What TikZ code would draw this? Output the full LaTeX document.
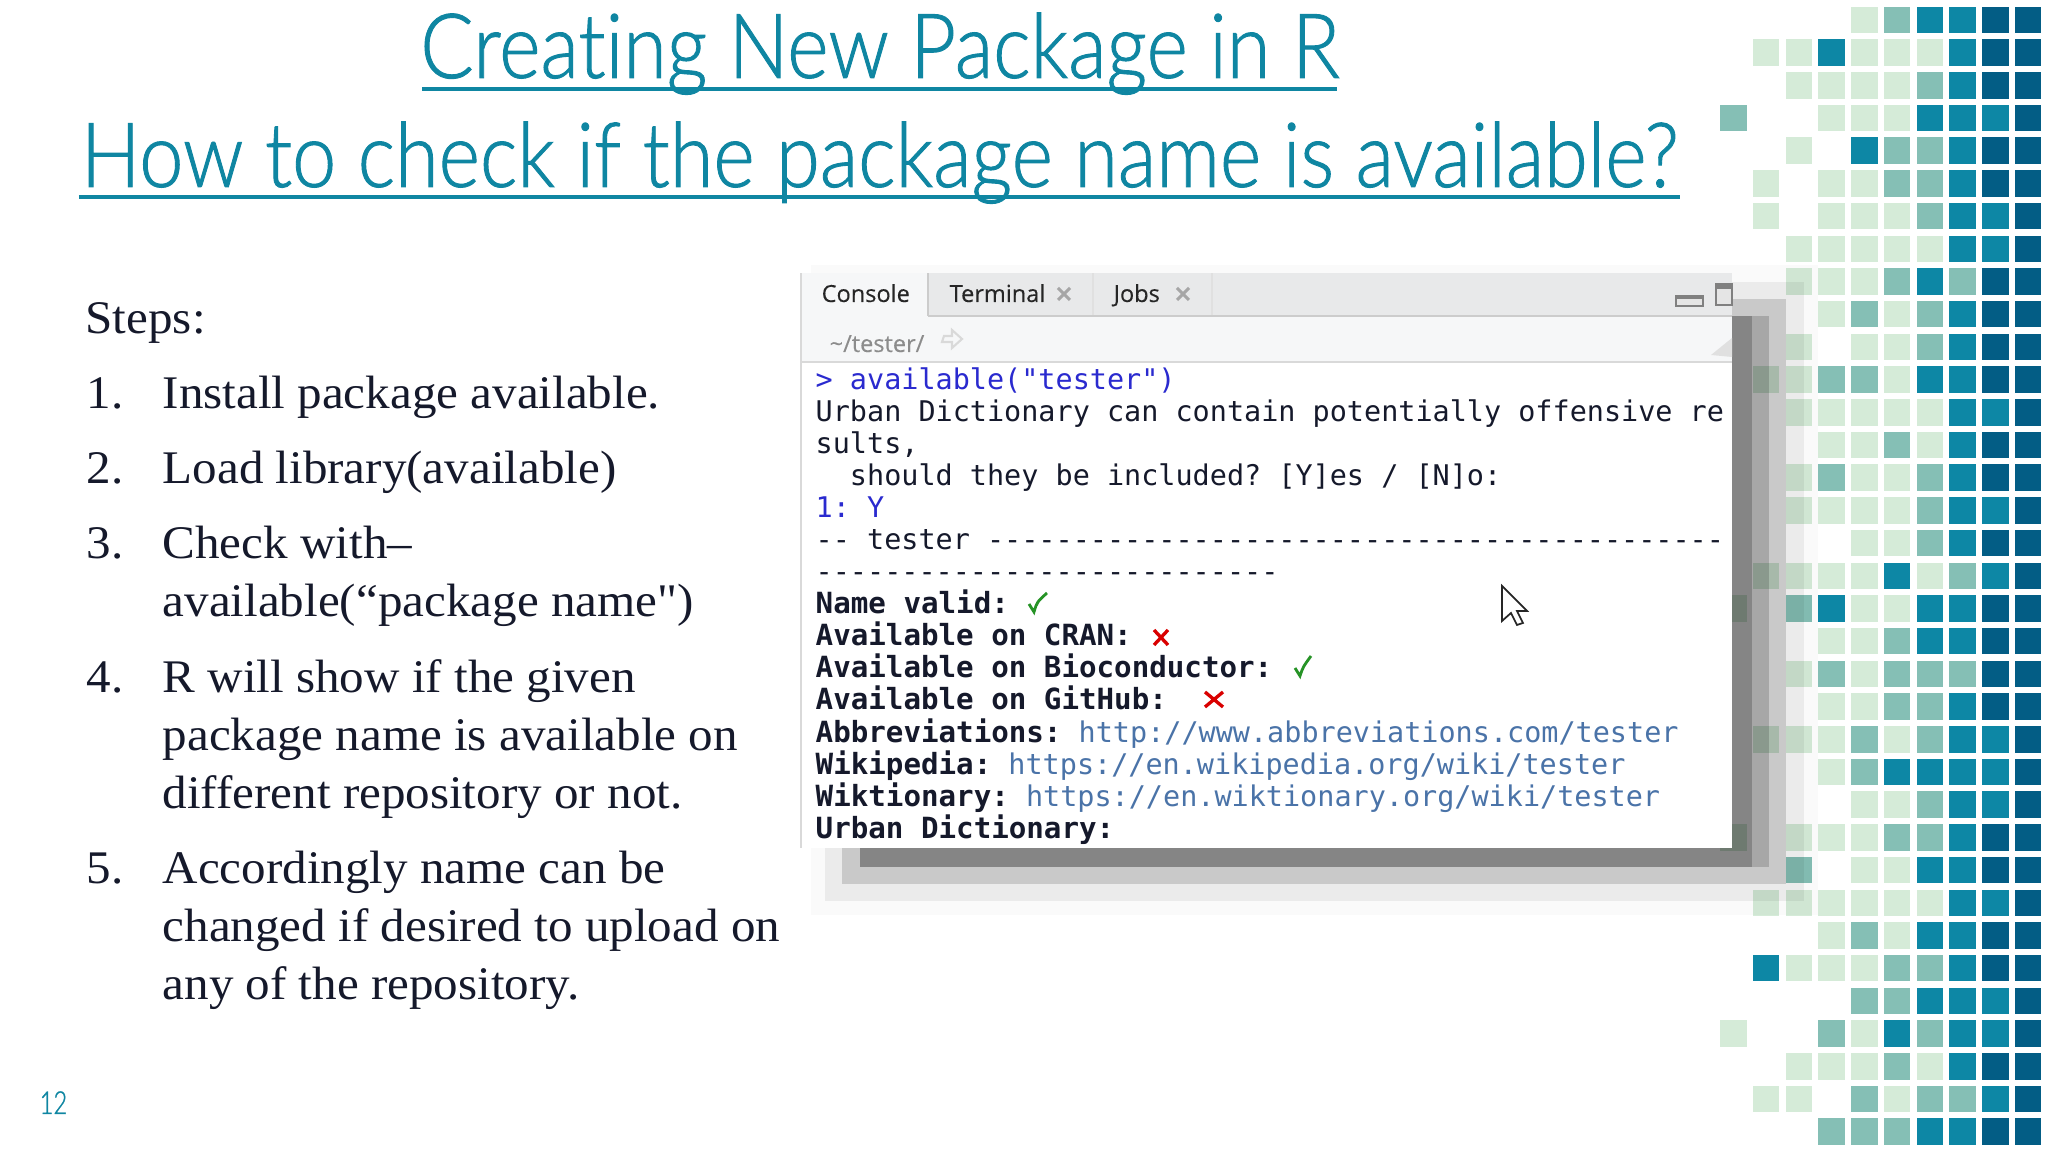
\documentclass[tikz,border=0pt]{standalone}
\usepackage{fontspec}
\setmonofont{DejaVu Sans Mono}
\newfontfamily\stepfont[FakeStretch=1.05]{Liberation Serif}
\newfontfamily\titlefont[FakeStretch=0.88,FakeBold=1,Ligatures=NoCommon]{Lato Light}
\newfontfamily\pagefont[FakeStretch=0.75,FakeBold=1]{Lato Light}
\newfontfamily\tabfont[FakeBold=0.25]{Open Sans}
\newcommand{\conboldface}{\bfseries\fontsize{8.3}{10}\selectfont}
\definecolor{titleteal}{HTML}{0F86A2}
\definecolor{stepink}{HTML}{15192B}
\definecolor{promptblue}{HTML}{2A2ACF}
\definecolor{linkblue}{HTML}{4A73A8}
\definecolor{tabgrey}{HTML}{E8E9EA}
\definecolor{pathgrey}{HTML}{F6F7F8}
\tikzset{
        tile1/.style={fill={rgb,255:red,213;green,235;blue,216}},
        tile2/.style={fill={rgb,255:red,133;green,191;blue,181}},
        tile3/.style={fill={rgb,255:red,13;green,135;blue,165}},
        tile4/.style={fill={rgb,255:red,3;green,93;blue,133}},
        titleline/.style={anchor=base,font=\titlefont\fontsize{25.6}{30}\selectfont,text=titleteal,inner sep=0},
        titlerule/.style={draw=titleteal,line width=1.2pt},
        stepline/.style={anchor=base west,font=\stepfont\fontsize{13.3}{16}\selectfont,text=stepink,inner sep=0},
        conline/.style={anchor=base west,font=\ttfamily\fontsize{8.1}{10}\selectfont,text=stepink,inner sep=0},
        conbold/.style={conline,font=\ttfamily\conboldface},
        tablabel/.style={anchor=base west,font=\tabfont\fontsize{6.7}{8}\selectfont,text=black!85,inner sep=0},
        shadowband/.style={fill=black,draw=none},
        okmark/.style={draw=green!50!black!85,line width=.8pt},
        nomark/.style={draw=red!85!black,line width=.95pt},
        tabx/.style={draw=black!35,line width=.85pt},
}
\begin{document}
\begin{tikzpicture}
        \useasboundingbox (0,0) rectangle (20.48,11.52);
        \fill[white] (0,0) rectangle (20.48,11.52);
        \foreach \cells [count=\r from 0] in {
                {0,0,0,0,1,2,3,3,4,4},{0,1,1,3,1,1,1,3,4,4},{0,0,1,1,1,1,2,3,4,4},
                {2,0,0,1,1,1,3,3,3,4},{0,0,1,0,3,2,2,3,4,4},{0,1,0,1,1,2,2,3,4,4},
                {0,1,0,1,1,1,2,3,3,4},{0,0,1,1,1,1,1,3,3,4},{0,0,1,1,1,2,3,2,4,4},
                {0,0,0,1,2,1,2,3,4,4},{0,0,1,0,1,1,2,3,4,4},{0,1,1,2,2,1,3,3,4,4},
                {0,0,1,1,1,1,1,3,3,4},{0,0,0,1,1,2,1,3,4,4},{0,0,1,2,1,1,2,3,4,4},
                {0,0,1,1,1,1,2,3,3,4},{0,0,0,0,1,1,2,3,4,4},{0,1,1,1,1,3,1,2,3,4},
                {1,0,2,3,1,1,3,3,4,4},{0,0,0,1,1,2,3,3,4,4},{0,0,1,2,1,2,2,2,4,4},
                {0,0,0,1,1,2,2,3,4,4},{0,1,1,1,2,1,2,3,3,4},{0,0,0,1,2,3,3,3,3,4},
                {0,0,0,0,1,1,2,3,3,4},{1,0,1,1,1,2,2,3,4,4},{0,0,2,0,1,1,3,3,4,4},
                {0,1,1,1,1,1,1,3,3,4},{0,0,0,1,2,1,3,3,4,4},{0,3,1,1,1,2,2,3,4,4},
                {0,0,0,0,2,2,3,3,3,4},{1,0,0,2,1,3,2,3,3,4},{0,0,1,1,1,2,1,3,4,4},
                {0,1,1,0,2,1,2,2,3,4},{0,0,0,2,2,2,3,3,4,4}} {
                \foreach \v [count=\c from 0] in \cells {
                        \ifnum\v>0
                        \fill[tile\v] ({17.2+.3275*\c},{11.453-.327*\r}) rectangle ++(.265,-.265);
                        \fi
                }
        }
        \fill[shadowband,opacity=.02] (8.11,2.37) rectangle (18.18,8.87);
        \fill[shadowband,opacity=.06] (8.25,2.51) rectangle (18.04,8.70);
        \fill[shadowband,opacity=.14] (8.42,2.68) rectangle (17.86,8.53);
        \fill[shadowband,opacity=.17] (8.60,2.85) rectangle (17.69,8.36);
        \fill[shadowband,opacity=.2] (8.60,2.85) rectangle (17.52,8.36);
        \node[titleline] (titleone) at (8.80,10.74) {Creating New Package in R};
        \node[titleline] (titletwo) at (8.795,9.65) {How to check if the package name is available?};
        \draw[titlerule] (4.22,10.63) -- (13.37,10.63);
        \draw[titlerule] (.79,9.55) -- (16.80,9.55);
        \node[stepline] (steps) at (.85,8.185) {Steps:};
        \node[stepline] (numone) at (.86,7.435) {1.};
        \node[stepline] (stepone) at (1.62,7.435) {Install package available.};
        \node[stepline] (numtwo) at (.86,6.685) {2.};
        \node[stepline] (steptwo) at (1.62,6.685) {Load library(available)};
        \node[stepline] (numthree) at (.86,5.935) {3.};
        \node[stepline] (stepthree) at (1.62,5.935) {Check with–};
        \node[stepline] (stepthreeb) at (1.62,5.355) {available(“package name")};
        \node[stepline] (numfour) at (.86,4.595) {4.};
        \node[stepline] (stepfour) at (1.62,4.595) {R will show if the given};
        \node[stepline] (stepfourb) at (1.62,4.015) {package name is available on};
        \node[stepline] (stepfourc) at (1.62,3.435) {different repository or not.};
        \node[stepline] (numfive) at (.86,2.685) {5.};
        \node[stepline] (stepfive) at (1.62,2.685) {Accordingly name can be};
        \node[stepline] (stepfiveb) at (1.62,2.105) {changed if desired to upload on};
        \node[stepline] (stepfivec) at (1.62,1.525) {any of the repository.};
        \node[anchor=base west,font=\pagefont\fontsize{9}{11}\selectfont,text=titleteal,inner sep=0] (pagenum) at (.39,.38) {12};
        \fill[white] (8.01,3.04) rectangle (17.32,8.79);
        \fill[tabgrey] (8.01,8.36) rectangle (17.32,8.79);
        \fill[pathgrey] (8.01,7.90) rectangle (17.32,8.36);
        \fill[pathgrey] (8.01,8.36) rectangle (9.28,8.79);
        \draw[black!15,line width=.5pt] (8.01,3.04) -- (8.01,8.79);
        \draw[black!20,line width=.5pt] (9.28,8.36) -- (9.28,8.79);
        \draw[black!12,line width=.5pt] (10.93,8.36) -- (10.93,8.79);
        \draw[black!12,line width=.5pt] (12.12,8.36) -- (12.12,8.79);
        \draw[black!20,line width=.6pt] (9.28,8.36) -- (17.32,8.36);
        \draw[black!15,line width=.6pt] (8.01,7.90) -- (17.32,7.90);
        \node[tablabel] (tabconsole) at (8.21,8.50) {Console};
        \node[tablabel] (tabterminal) at (9.49,8.50) {Terminal};
        \node[tablabel] (tabjobs) at (11.13,8.50) {Jobs};
        \draw[tabx] (10.58,8.52) -- (10.70,8.64) (10.58,8.64) -- (10.70,8.52);
        \draw[tabx] (11.77,8.52) -- (11.89,8.64) (11.77,8.64) -- (11.89,8.52);
        \draw[black!50,fill=white!90!black,line width=.7pt] (16.76,8.46) rectangle (17.03,8.56);
        \fill[black!50] (16.76,8.53) rectangle (17.03,8.57);
        \draw[black!50,fill=white!90!black,line width=.7pt] (17.16,8.47) rectangle (17.32,8.68);
        \fill[black!50] (17.16,8.63) rectangle (17.32,8.69);
        \node[tablabel,text=black!45] (pathtext) at (8.29,8.00) {\textasciitilde/tester/};
        \draw[black!15,line width=.6pt] (9.42,8.10) -- (9.52,8.10) -- (9.52,8.04) -- (9.62,8.13) -- (9.52,8.22) -- (9.52,8.16) -- (9.44,8.16) -- cycle;
        \fill[black!12] (17.11,7.97) -- (17.32,8.14) -- (17.32,7.95) -- cycle;
        \node[conline,text=promptblue] (conone) at (8.15,7.62) {> available("tester")};
        \node[conline] (contwo) at (8.15,7.309) {Urban Dictionary can contain potentially offensive re};
        \node[conline] (conthree) at (8.15,6.988) {sults,};
        \node[conline] (confour) at (8.15,6.667) {~~should they be included? [Y]es / [N]o:};
        \node[conline,text=promptblue] (confive) at (8.15,6.346) {1: Y};
        \node[conline] (consix) at (8.15,6.025) {-- tester -------------------------------------------};
        \node[conline] (conseven) at (8.15,5.704) {---------------------------};
        \node[conbold] (coneight) at (8.15,5.383) {Name valid:};
        \node[conbold] (connine) at (8.15,5.062) {Available on CRAN:};
        \node[conbold] (conten) at (8.15,4.741) {Available on Bioconductor:};
        \node[conbold] (coneleven) at (8.15,4.42) {Available on GitHub:};
        \node[conline] (contwelve) at (8.15,4.099) {{\conboldface Abbreviations:} \textcolor{linkblue}{http://www.abbreviations.com/tester}};
        \node[conline] (conthirteen) at (8.15,3.778) {{\conboldface Wikipedia:} \textcolor{linkblue}{https://en.wikipedia.org/wiki/tester}};
        \node[conline] (confourteen) at (8.15,3.457) {{\conboldface Wiktionary:} \textcolor{linkblue}{https://en.wiktionary.org/wiki/tester}};
        \node[conbold] (confifteen) at (8.15,3.136) {Urban Dictionary:};
        \draw[okmark] (10.29,5.48) -- (10.34,5.40) .. controls (10.37,5.50) .. (10.47,5.59);
        \draw[okmark] (12.95,4.84) -- (13.00,4.76) .. controls (13.03,4.85) .. (13.11,4.96);
        \draw[nomark] (11.54,5.07) -- (11.68,5.22) (11.54,5.22) -- (11.68,5.07);
        \draw[nomark] (12.05,4.45) -- (12.23,4.60) (12.05,4.60) -- (12.23,4.45);
        \draw[fill=white,draw=black!85,line width=.5pt] (15.02,5.66) -- (15.02,5.31) -- (15.11,5.39) -- (15.17,5.27) -- (15.23,5.29) -- (15.17,5.41) -- (15.27,5.41) -- cycle;
\end{tikzpicture}
\end{document}
